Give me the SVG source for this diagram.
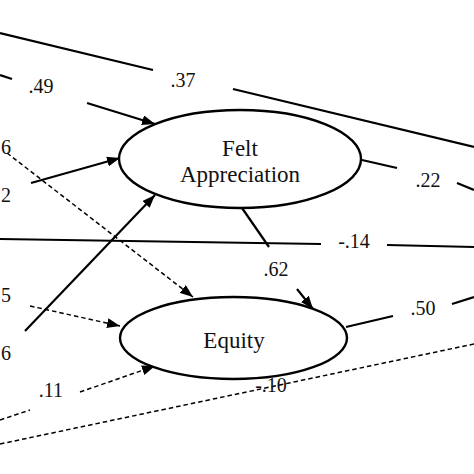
<svg xmlns="http://www.w3.org/2000/svg" width="474" height="474" viewBox="0 0 474 474">
<defs>
<marker id="ah" markerUnits="userSpaceOnUse" markerWidth="13" markerHeight="10" refX="13" refY="5" orient="auto">
<path d="M0,0 L13,5 L0,10 z" fill="#000"/>
</marker>
</defs>
<style>
.s{stroke:#000;stroke-width:2.2;fill:none}
.d{stroke:#000;stroke-width:1.5;fill:none;stroke-dasharray:4.5,3}
.n{fill:#fff;stroke:#000;stroke-width:2.4}
.t{font-family:"Liberation Serif","Times New Roman",serif;font-size:23px;fill:#111;text-anchor:middle}
.l{font-family:"Liberation Serif","Times New Roman",serif;font-size:20px;fill:#111;text-anchor:middle}
.e{font-family:"Liberation Serif","Times New Roman",serif;font-size:20px;fill:#111;text-anchor:end}
</style>
<rect width="474" height="474" fill="#fff"/>
<g id="connectors">
<line class="s" x1="0" y1="33" x2="153" y2="70"/>
<line class="s" x1="233" y1="89" x2="474" y2="147"/>
<line class="s" x1="0" y1="75" x2="12" y2="79"/>
<line class="s" x1="87" y1="103" x2="155" y2="124" marker-end="url(#ah)"/>
<line class="d" x1="7" y1="153" x2="193" y2="297" marker-end="url(#ah)"/>
<line class="s" x1="31" y1="183" x2="120" y2="158" marker-end="url(#ah)"/>
<line class="s" x1="25" y1="331" x2="155" y2="195" marker-end="url(#ah)"/>
<line class="s" x1="0" y1="239" x2="321" y2="244"/>
<line class="s" x1="387" y1="245" x2="474" y2="247"/>
<line class="s" x1="242" y1="208" x2="269" y2="247"/>
<line class="s" x1="297" y1="289" x2="313" y2="309" marker-end="url(#ah)"/>
<line class="s" x1="362" y1="160" x2="397" y2="168"/>
<line class="s" x1="457" y1="183" x2="474" y2="190"/>
<line class="s" x1="346" y1="327" x2="393" y2="316"/>
<line class="s" x1="452" y1="304" x2="474" y2="297"/>
<line class="d" x1="30" y1="306" x2="120" y2="326" marker-end="url(#ah)"/>
<line class="d" x1="80" y1="392" x2="155" y2="366" marker-end="url(#ah)"/>
<line class="d" x1="0" y1="420" x2="30" y2="410"/>
<line class="d" x1="0" y1="444" x2="474" y2="344"/>
</g>
<g id="felt-appreciation">
<ellipse class="n" cx="240" cy="159" rx="121" ry="49"/>
<text class="t" x="240" y="156">Felt</text>
<text class="t" x="240" y="182">Appreciation</text>
</g>
<g id="equity">
<ellipse class="n" cx="233.5" cy="338" rx="113.5" ry="41"/>
<text class="t" x="234" y="348">Equity</text>
</g>
<g id="labels">
<text class="l" x="183" y="87">.37</text>
<text class="l" x="41" y="93">.49</text>
<text class="l" x="428" y="187">.22</text>
<text class="l" x="354" y="248">-.14</text>
<text class="l" x="276" y="276">.62</text>
<text class="l" x="423" y="315">.50</text>
<text class="l" x="51" y="397">.11</text>
<text class="l" x="271" y="392">-.10</text>
<text class="e" x="11" y="154">6</text>
<text class="e" x="11" y="202">2</text>
<text class="e" x="11" y="302">5</text>
<text class="e" x="11" y="360">6</text>
</g>
</svg>
